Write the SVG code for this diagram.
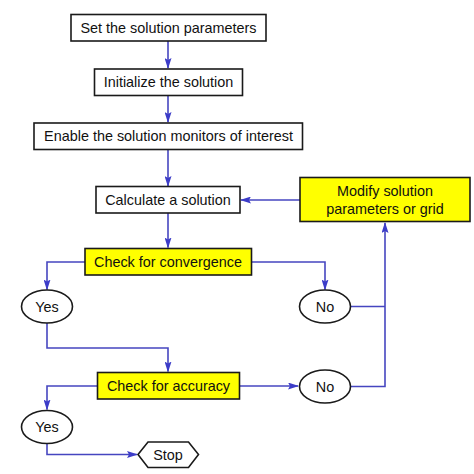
<svg xmlns="http://www.w3.org/2000/svg" width="474" height="474" viewBox="0 0 474 474">
<defs>
<marker id="ah" markerWidth="11" markerHeight="7" refX="10" refY="3.5" orient="auto" markerUnits="userSpaceOnUse">
<path d="M0,0 L11,3.5 L0,7 L2,3.5 Z" fill="#3c3cc8"/>
</marker>
<style>
.box{fill:#fff;stroke:#1a1a1a;stroke-width:1.6}
.yel{fill:#ffff00;stroke:#1a1a1a;stroke-width:1.6}
.t{font-family:"Liberation Sans",Arial,sans-serif;font-size:14.4px;fill:#111;text-anchor:middle}
.c{fill:none;stroke:#4646c0;stroke-width:1.6}
</style>
</defs>
<rect width="474" height="474" fill="#fff"/>
<g id="connectors">
<path class="c" d="M168,41 V68" marker-end="url(#ah)"/>
<path class="c" d="M168,95.5 V122" marker-end="url(#ah)"/>
<path class="c" d="M168,150 V186" marker-end="url(#ah)"/>
<path class="c" d="M300,200 H241" marker-end="url(#ah)"/>
<path class="c" d="M168,213 V247.5" marker-end="url(#ah)"/>
<path class="c" d="M85,262 H47 V289.5" marker-end="url(#ah)"/>
<path class="c" d="M252,262 H325 V289.5" marker-end="url(#ah)"/>
<path class="c" d="M351,306.5 H385"/>
<path class="c" d="M351,386.5 H385 V223" marker-end="url(#ah)"/>
<path class="c" d="M47,323 V348 H168 V371.5" marker-end="url(#ah)"/>
<path class="c" d="M239.5,386 H298" marker-end="url(#ah)"/>
<path class="c" d="M97,386 H47 V409.5" marker-end="url(#ah)"/>
<path class="c" d="M47,443.5 V454.5 H137" marker-end="url(#ah)"/>
</g>
<g id="set-params"><rect class="box" x="71" y="14.5" width="195" height="26.5"/><text class="t" x="168.5" y="32.8">Set the solution parameters</text></g>
<g id="initialize"><rect class="box" x="94.5" y="69" width="148" height="26.5"/><text class="t" x="168.5" y="87.3">Initialize the solution</text></g>
<g id="monitors"><rect class="box" x="34" y="123" width="268.5" height="26.5"/><text class="t" x="168.5" y="141.3">Enable the solution monitors of interest</text></g>
<g id="calculate"><rect class="box" x="96" y="186.5" width="144" height="26.5"/><text class="t" x="168" y="204.8">Calculate a solution</text></g>
<g id="modify"><rect class="yel" x="300" y="177.5" width="170" height="44"/><text class="t" x="385" y="196">Modify solution</text><text class="t" x="385" y="213.5">parameters or grid</text></g>
<g id="check-convergence"><rect class="yel" x="85" y="248.5" width="166.5" height="26.5"/><text class="t" x="168" y="266.8">Check for convergence</text></g>
<g id="yes1"><ellipse class="box" cx="47" cy="306.5" rx="25.5" ry="16.5"/><text class="t" x="47" y="311.5">Yes</text></g>
<g id="no1"><ellipse class="box" cx="325" cy="306.5" rx="25.5" ry="16.5"/><text class="t" x="325" y="311.5">No</text></g>
<g id="check-accuracy"><rect class="yel" x="97.5" y="372.5" width="142" height="26.5"/><text class="t" x="168.5" y="390.8">Check for accuracy</text></g>
<g id="no2"><ellipse class="box" cx="325" cy="386.5" rx="25.5" ry="16.5"/><text class="t" x="325" y="391.5">No</text></g>
<g id="yes2"><ellipse class="box" cx="47" cy="427" rx="25.5" ry="16.5"/><text class="t" x="47" y="432">Yes</text></g>
<g id="stop"><polygon class="box" points="138,454.5 148,442 188.5,442 198.5,454.5 188.5,467.5 148,467.5"/><text class="t" x="168" y="459.5">Stop</text></g>
</svg>
